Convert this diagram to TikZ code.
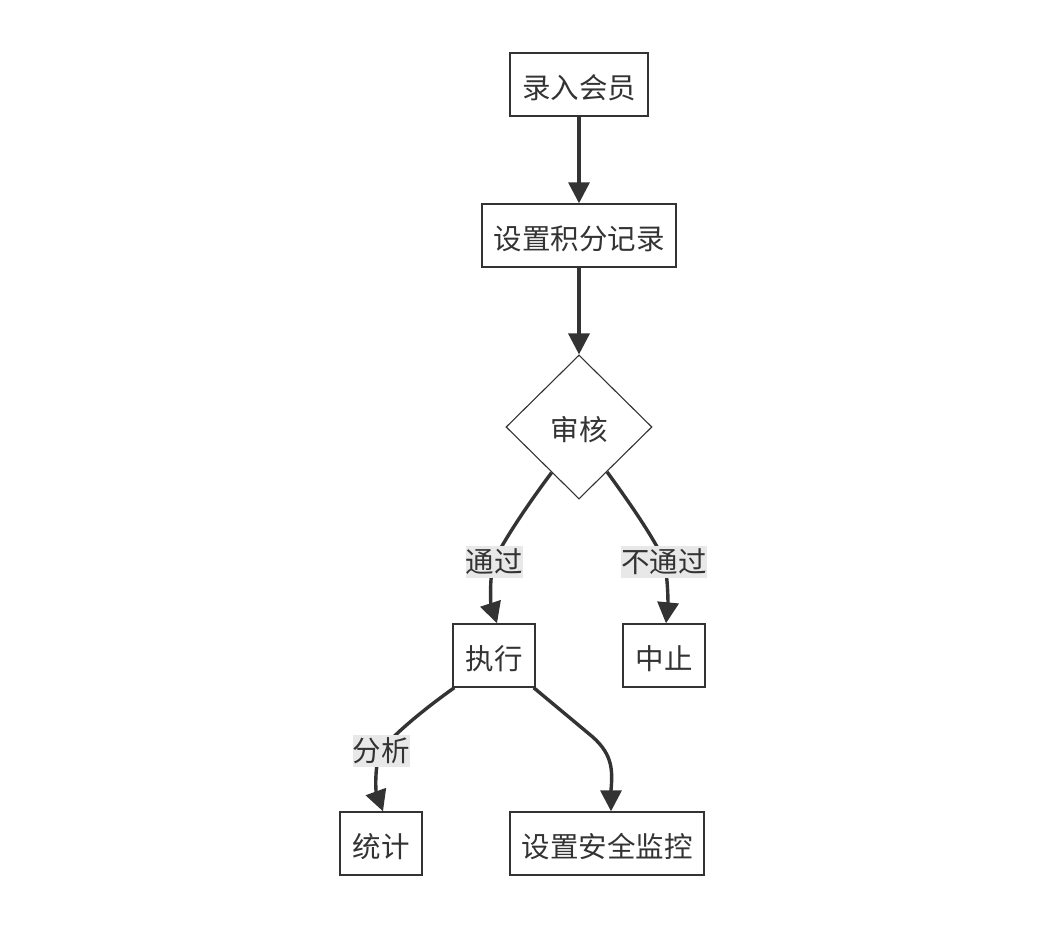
\documentclass[tikz,border=0pt]{standalone}
\usepackage{fontspec}
\setmainfont{Noto Sans CJK SC}
\usetikzlibrary{shapes.geometric,arrows.meta}
\definecolor{ink}{HTML}{333333}
\definecolor{lblbg}{HTML}{E8E8E8}
\tikzset{
  txt/.style={font=\fontsize{28.5}{32}\selectfont},
  box/.style={draw=ink, line width=1.4pt, fill=white, text=ink, txt,
    minimum height=63pt, inner xsep=0pt, inner ysep=0pt, text height=27pt, text depth=0pt},
  dia/.style={diamond, aspect=1, draw=ink, line width=1.1pt, fill=white, text=ink,
    txt, minimum width=146pt, minimum height=144pt, inner sep=0pt, text height=27pt, text depth=0pt},
  lbl/.style={fill=lblbg, text=ink, txt, inner xsep=0pt,
    inner ysep=0pt, minimum height=32pt},
  edge/.style={draw=ink, line width=3.4pt, -{Triangle[length=21pt,width=21pt]}},
}
\begin{document}
\begin{tikzpicture}[x=1pt,y=-1pt]
\useasboundingbox[fill=white] (0,0) rectangle (1046,932);
\node[box, minimum width=138pt] (lr) at (579,84.5) {录入会员};
\node[box, minimum width=194pt] (jf) at (579,235.5) {设置积分记录};
\node[dia] (sh) at (579,427) {审核};
\node[box, minimum width=82pt] (zx) at (494,655.5) {执行};
\node[box, minimum width=82pt] (zz) at (664,655.5) {中止};
\node[box, minimum width=82pt] (tj) at (381,843.5) {统计};
\node[box, minimum width=194pt] (aq) at (607,843.5) {设置安全监控};
\coordinate (c1) at (494,562);
\coordinate (c2) at (664,562);
\coordinate (c3) at (381,751);
\draw[edge] (lr) -- (jf);
\draw[edge] (jf) -- (sh.north);
\draw[edge] (sh.-121) .. controls (525,508) and (499,548) .. (c1)
  .. controls (489,577) and (491,605) .. ([xshift=3pt]zx.north);
\draw[edge] (sh.-58) .. controls (635,510) and (660,548) .. (c2)
  .. controls (668,577) and (668,603) .. ([xshift=2pt]zz.north);
\draw[edge] ([xshift=2pt]zx.south west) .. controls (420,712) and (390,738) .. (c3)
  .. controls (374,765) and (376,792) .. ([xshift=2pt]tj.north);
\draw[edge] ([xshift=-2pt]zx.south east) -- (588,733) .. controls (612,752) and (613,768) .. (611,790)
  -- ([xshift=4pt]aq.north);
\node[lbl] at (c1) {通过};
\node[lbl] at (c2) {不通过};
\node[lbl] at (c3) {分析};
\end{tikzpicture}
\end{document}
